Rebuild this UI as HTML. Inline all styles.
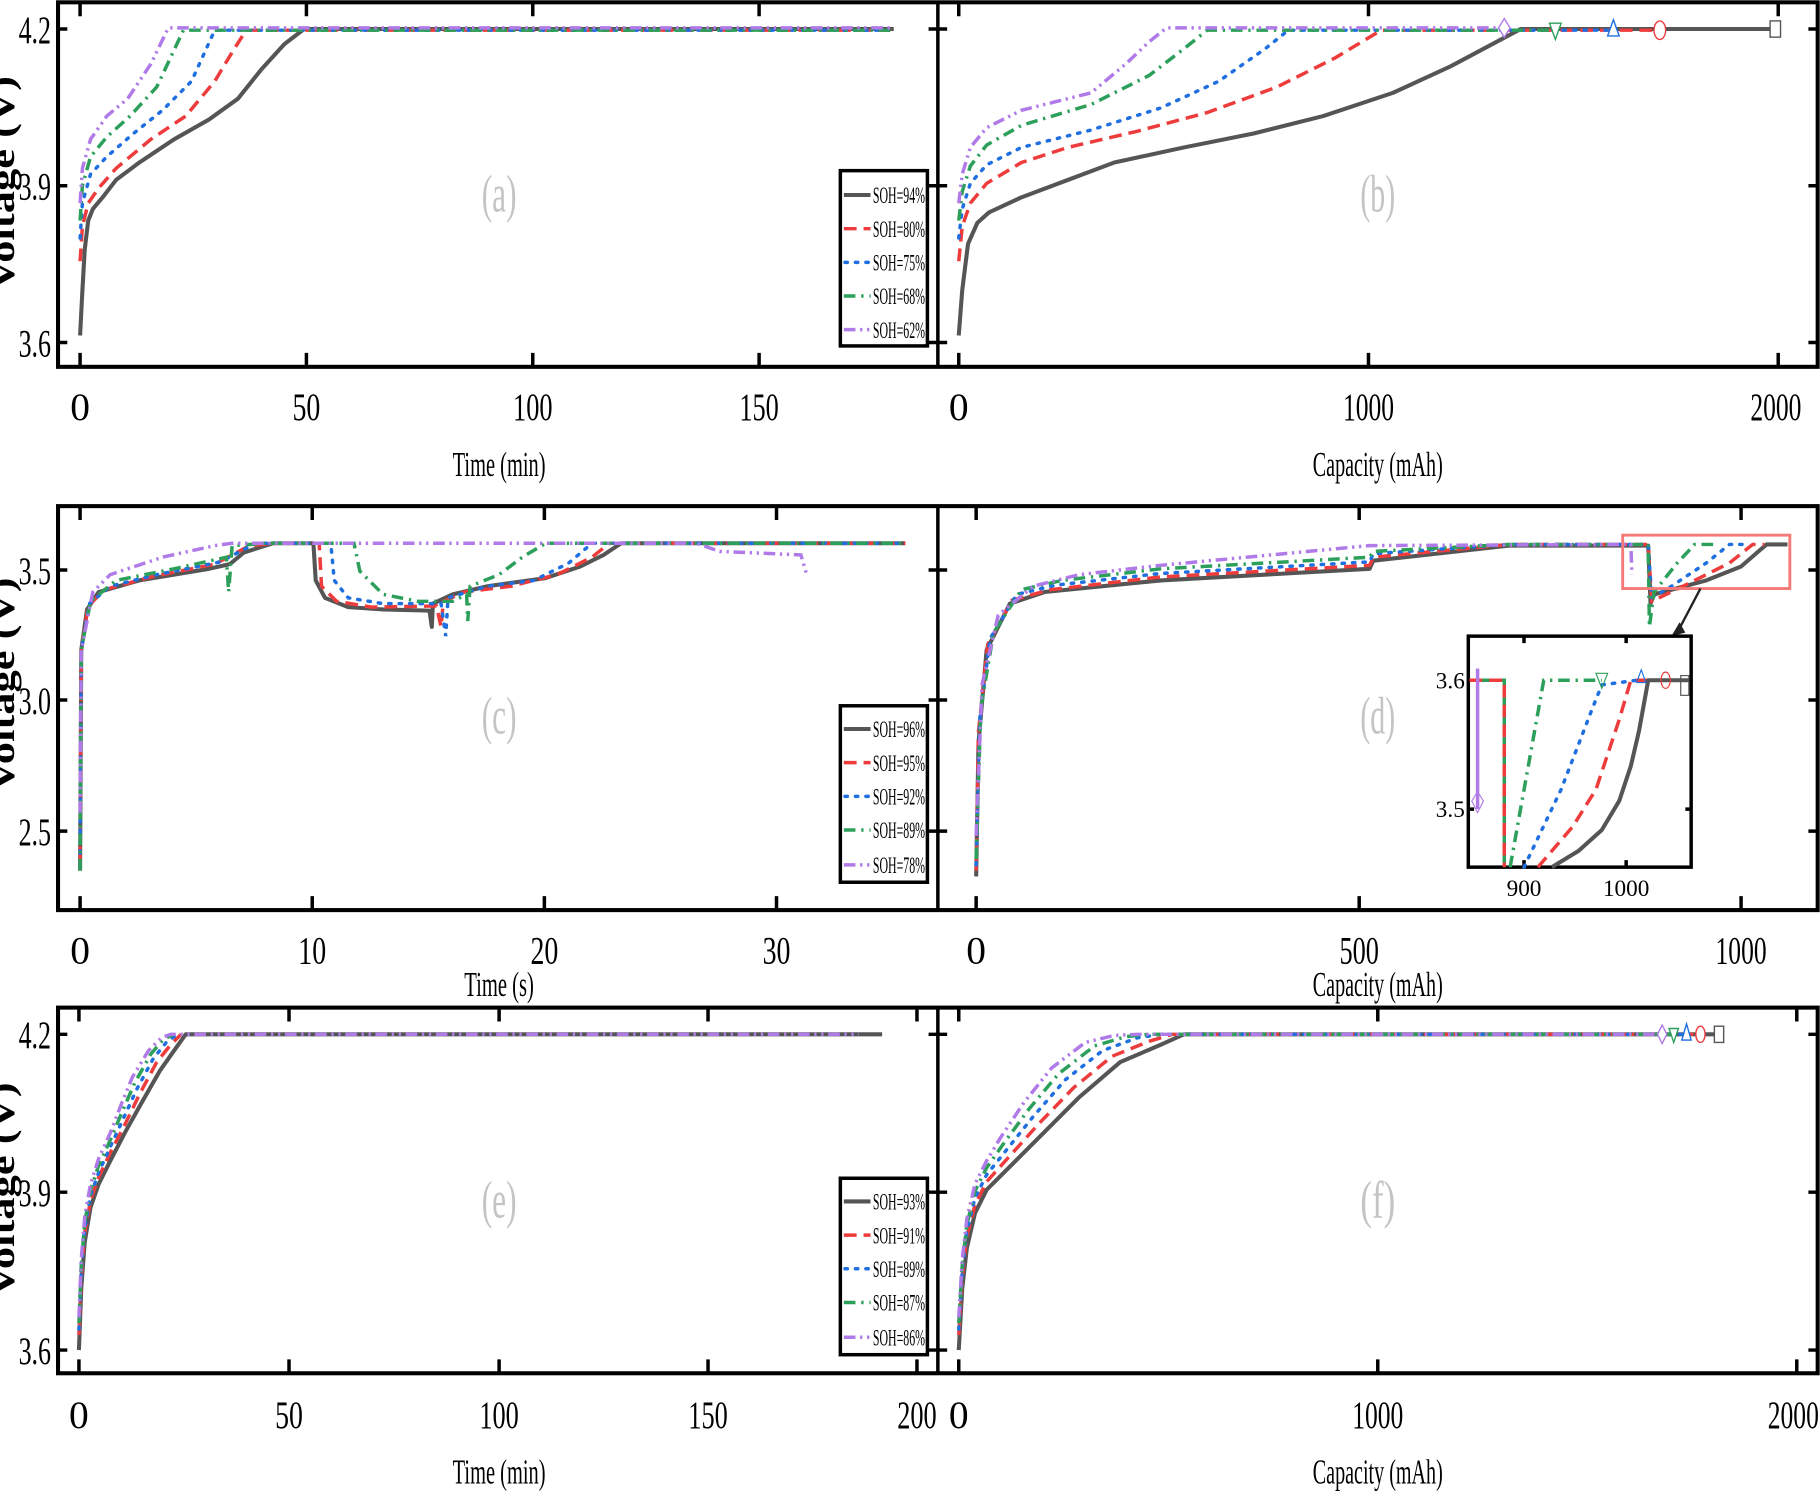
<!DOCTYPE html>
<html><head><meta charset="utf-8"><style>
html,body{margin:0;padding:0;background:#fff;}
svg{display:block;}
text{font-family:"Liberation Serif",serif;}
.tk{font-size:34px;fill:#000;}
.ax{font-size:30px;fill:#000;}
.lg{font-size:20px;fill:#000;}
.pl{font-size:46px;fill:#c4c4c4;}
.g{stroke:#555;stroke-width:3.5;fill:none;stroke-linejoin:round;}
.r{stroke:#ee3b3b;stroke-width:3;fill:none;stroke-dasharray:11 6;}
.b{stroke:#1f6fe0;stroke-width:3;fill:none;stroke-dasharray:2 7;stroke-linecap:round;}
.gr{stroke:#2ca05a;stroke-width:3;fill:none;stroke-dasharray:10 5 2 5;}
.p{stroke:#b07be8;stroke-width:3;fill:none;stroke-dasharray:10 4 2 4 2 4;}
.fr{fill:none;stroke:#000;stroke-width:3.5;}
.t{stroke:#000;stroke-width:3;}
</style></head><body>
<svg width="1820" height="1494" viewBox="0 0 1568 1287" preserveAspectRatio="none" xmlns="http://www.w3.org/2000/svg">
<rect class="fr" x="50" y="2" width="1516" height="314"/>
<line class="t" x1="808" y1="2" x2="808" y2="316"/>
<rect class="fr" x="50" y="436" width="1516" height="348"/>
<line class="t" x1="808" y1="436" x2="808" y2="784"/>
<rect class="fr" x="50" y="868" width="1516" height="315"/>
<line class="t" x1="808" y1="868" x2="808" y2="1183"/>

<g class="t">
<path d="M69 2v12M264 2v12M459 2v12M654 2v12M69 316v-12M264 316v-12M459 316v-12M654 316v-12"/>
<path d="M826 2v12M1179 2v12M1532 2v12M826 316v-12M1179 316v-12M1532 316v-12"/>
<path d="M50 25h8M50 160h8M50 295h8M808 25h-8M808 160h-8M808 295h-8M808 25h8M808 160h8M808 295h8M1566 25h-8M1566 160h-8M1566 295h-8"/>
<path d="M69 436v12M269 436v12M469 436v12M669 436v12M69 784v-12M269 784v-12M469 784v-12M669 784v-12"/>
<path d="M841 436v12M1171 436v12M1500 436v12M841 784v-12M1171 784v-12M1500 784v-12"/>
<path d="M50 491h8M50 603h8M50 716h8M808 491h-8M808 603h-8M808 716h-8M808 491h8M808 603h8M808 716h8M1566 491h-8M1566 603h-8M1566 716h-8"/>
<path d="M68 868v12M249 868v12M430 868v12M610 868v12M790 868v12M68 1183v-12M249 1183v-12M430 1183v-12M610 1183v-12M790 1183v-12"/>
<path d="M826 868v12M1187 868v12M1548 868v12M826 1183v-12M1187 1183v-12M1548 1183v-12"/>
<path d="M50 891h8M50 1027h8M50 1163h8M808 891h-8M808 1027h-8M808 1163h-8M808 891h8M808 1027h8M808 1163h8M1566 891h-8M1566 1027h-8M1566 1163h-8"/>
</g>

<g class="tk" text-anchor="end">
<text x="44" y="37" textLength="28" lengthAdjust="spacingAndGlyphs">4.2</text>
<text x="44" y="172" textLength="28" lengthAdjust="spacingAndGlyphs">3.9</text>
<text x="44" y="307" textLength="28" lengthAdjust="spacingAndGlyphs">3.6</text>
<text x="44" y="503" textLength="28" lengthAdjust="spacingAndGlyphs">3.5</text>
<text x="44" y="615" textLength="28" lengthAdjust="spacingAndGlyphs">3.0</text>
<text x="44" y="728" textLength="28" lengthAdjust="spacingAndGlyphs">2.5</text>
<text x="44" y="903" textLength="28" lengthAdjust="spacingAndGlyphs">4.2</text>
<text x="44" y="1039" textLength="28" lengthAdjust="spacingAndGlyphs">3.9</text>
<text x="44" y="1175" textLength="28" lengthAdjust="spacingAndGlyphs">3.6</text>
</g>
<g font-size="30" font-weight="bold" font-family="Liberation Serif,serif">
<text transform="translate(12,158) rotate(-90)" text-anchor="middle" textLength="185" lengthAdjust="spacingAndGlyphs">Voltage (V)</text>
<text transform="translate(12,590) rotate(-90)" text-anchor="middle" textLength="185" lengthAdjust="spacingAndGlyphs">Voltage (V)</text>
<text transform="translate(12,1025) rotate(-90)" text-anchor="middle" textLength="185" lengthAdjust="spacingAndGlyphs">Voltage (V)</text>
</g>

<g class="tk" text-anchor="middle">
<text x="69" y="362">0</text><text x="264" y="362" textLength="24" lengthAdjust="spacingAndGlyphs">50</text><text x="459" y="362" textLength="34" lengthAdjust="spacingAndGlyphs">100</text><text x="654" y="362" textLength="34" lengthAdjust="spacingAndGlyphs">150</text>
<text x="826" y="362">0</text><text x="1179" y="362" textLength="44" lengthAdjust="spacingAndGlyphs">1000</text><text x="1530" y="362" textLength="44" lengthAdjust="spacingAndGlyphs">2000</text>
<text x="69" y="830">0</text><text x="269" y="830" textLength="24" lengthAdjust="spacingAndGlyphs">10</text><text x="469" y="830" textLength="24" lengthAdjust="spacingAndGlyphs">20</text><text x="669" y="830" textLength="24" lengthAdjust="spacingAndGlyphs">30</text>
<text x="841" y="830">0</text><text x="1171" y="830" textLength="34" lengthAdjust="spacingAndGlyphs">500</text><text x="1500" y="830" textLength="44" lengthAdjust="spacingAndGlyphs">1000</text>
<text x="68" y="1230">0</text><text x="249" y="1230" textLength="24" lengthAdjust="spacingAndGlyphs">50</text><text x="430" y="1230" textLength="34" lengthAdjust="spacingAndGlyphs">100</text><text x="610" y="1230" textLength="34" lengthAdjust="spacingAndGlyphs">150</text><text x="790" y="1230" textLength="34" lengthAdjust="spacingAndGlyphs">200</text>
<text x="826" y="1230">0</text><text x="1187" y="1230" textLength="44" lengthAdjust="spacingAndGlyphs">1000</text><text x="1545" y="1230" textLength="44" lengthAdjust="spacingAndGlyphs">2000</text>
</g>
<g class="ax" text-anchor="middle">
<text x="430" y="410" textLength="80" lengthAdjust="spacingAndGlyphs">Time (min)</text>
<text x="1187" y="410" textLength="112" lengthAdjust="spacingAndGlyphs">Capacity (mAh)</text>
<text x="430" y="858" textLength="60" lengthAdjust="spacingAndGlyphs">Time (s)</text>
<text x="1187" y="858" textLength="112" lengthAdjust="spacingAndGlyphs">Capacity (mAh)</text>
<text x="430" y="1278" textLength="80" lengthAdjust="spacingAndGlyphs">Time (min)</text>
<text x="1187" y="1278" textLength="112" lengthAdjust="spacingAndGlyphs">Capacity (mAh)</text>
</g>
<g class="pl" text-anchor="middle">
<text x="430" y="182" textLength="30" lengthAdjust="spacingAndGlyphs">(a)</text>
<text x="1187" y="182" textLength="30" lengthAdjust="spacingAndGlyphs">(b)</text>
<text x="430" y="632" textLength="30" lengthAdjust="spacingAndGlyphs">(c)</text>
<text x="1187" y="632" textLength="30" lengthAdjust="spacingAndGlyphs">(d)</text>
<text x="430" y="1049" textLength="30" lengthAdjust="spacingAndGlyphs">(e)</text>
<text x="1187" y="1049" textLength="30" lengthAdjust="spacingAndGlyphs">(f)</text>
</g>

<!-- panel a -->
<path class="g" d="M69 289L71 250L73 215L76 190L80 180L90 168L100 155L120 140L150 120L180 103L205 85L225 60L245 38L262 25L770 25"/>
<path class="r" d="M69 225L71 195L76 175L85 162L100 145L130 120L160 100L185 70L200 45L212 26L770 26"/>
<path class="b" d="M69 205L71 175L78 150L92 135L115 115L140 95L165 70L185 26L770 26"/>
<path class="gr" d="M69 190L71 160L78 135L92 118L112 100L135 75L158 26L770 26"/>
<path class="p" d="M69 175L71 145L78 120L92 100L110 85L130 55L145 24L770 24"/>

<!-- panel b -->
<path class="g" d="M826 289L829 250L834 210L842 192L852 183L880 170L920 155L960 140L1020 127L1080 115L1140 100L1200 80L1250 57L1310 25L1530 25"/>
<path class="r" d="M826 225L829 195L836 175L850 158L880 140L920 127L980 113L1040 97L1100 75L1150 50L1190 26L1430 26"/>
<path class="b" d="M826 205L829 180L836 158L850 142L880 127L940 112L1000 93L1050 70L1090 42L1110 26L1390 26"/>
<path class="gr" d="M826 190L829 165L836 143L850 125L880 108L940 90L990 65L1020 42L1040 26L1340 26"/>
<path class="p" d="M826 175L829 150L836 127L850 110L880 95L940 80L970 55L990 36L1005 24L1296 24"/>
<g fill="#fff" stroke-width="1.2">
<rect x="1525" y="18" width="9" height="14" stroke="#555"/>
<ellipse cx="1430" cy="26" rx="5" ry="8" stroke="#ee3b3b"/>
<path d="M1390 17L1385 31L1395 31Z" stroke="#1f6fe0"/>
<path d="M1335 20L1345 20L1340 34Z" stroke="#2ca05a"/>
<path d="M1296 16L1301 24L1296 32L1291 24Z" stroke="#b07be8"/>
</g>

<!-- panel c -->
<path class="g" d="M69 750L70 560L75 525L85 510L120 500L180 490L198 486L210 476L235 468L270 468L272 500L280 515L300 523L330 525L370 526L372 540L373 520L390 512L420 505L470 498L500 488L520 478L535 468L780 468"/>
<path class="r" d="M69 740L70 560L76 522L90 508L130 497L185 486L215 470L240 468L275 468L277 505L290 518L320 523L376 522L380 540L382 518L400 510L440 505L480 495L510 480L525 468L780 468"/>
<path class="b" d="M69 735L70 560L77 520L95 505L135 495L190 484L220 468L285 468L288 500L300 515L330 520L380 520L384 548L386 515L420 505L460 500L490 485L510 468L780 468"/>
<path class="gr" d="M69 750L70 560L78 518L100 500L150 490L195 480L197 510L200 470L230 468L305 468L310 492L330 512L360 518L390 518L402 512L403 535L405 505L430 495L450 480L470 468L780 468"/>
<path class="p" d="M69 700L70 560L80 510L95 495L140 480L185 470L200 468L600 468L620 475L690 478L695 495"/>

<!-- panel d -->
<path class="g" d="M841 755L843 640L850 560L870 520L900 510L1000 500L1180 490L1183 483L1300 470L1420 470L1422 520L1425 512L1470 500L1500 488L1515 475L1522 469L1540 469"/>
<path class="r" d="M841 750L843 630L851 555L872 517L905 508L1000 497L1180 487L1183 480L1300 469L1420 469L1423 518L1450 505L1490 485L1510 469L1520 469"/>
<path class="b" d="M841 745L844 620L853 550L876 512L910 504L1000 494L1180 484L1183 477L1300 469L1420 469L1423 515L1440 505L1470 485L1490 469L1505 469"/>
<path class="gr" d="M841 740L845 610L856 545L880 508L915 500L1000 490L1180 480L1183 475L1300 469L1420 469L1421 540L1425 510L1445 485L1460 469L1480 469"/>
<path class="p" d="M841 720L846 590L860 530L890 505L930 495L1000 487L1180 470L1405 469L1406 495"/>
<rect x="1398" y="461" width="144" height="46" fill="none" stroke="#f47a7a" stroke-width="2.5"/>
<path d="M1465 507L1445 545" stroke="#222" stroke-width="2"/>
<path d="M1440 548L1447 536L1452 545Z" fill="#222"/>
<rect x="1265" y="548" width="192" height="199" fill="#fff" stroke="#000" stroke-width="3"/>
<g class="t" stroke-width="2"><path d="M1313 548v6M1401 548v6M1313 747v-6M1401 747v-6M1265 586h5M1265 697h5M1457 586h-5M1457 697h-5"/></g>
<g font-size="20" text-anchor="end"><text x="1262" y="593">3.6</text><text x="1262" y="704">3.5</text></g>
<g font-size="20" text-anchor="middle"><text x="1313" y="772">900</text><text x="1401" y="772">1000</text></g>
<path d="M1266 586L1296 586L1296 747" stroke="#2ca05a" stroke-width="3" fill="none"/>
<path d="M1266 586L1296 586L1296 747" class="r" stroke-width="2"/>
<path d="M1273 576L1273 697" stroke="#b07be8" stroke-width="3"/>
<path d="M1301 747L1330 586L1380 586" class="gr"/>
<path d="M1313 747L1345 680L1372 610L1380 590L1410 586" class="b"/>
<path d="M1325 747L1355 712L1375 680L1395 620L1405 586L1435 586" class="r"/>
<path d="M1337 747L1360 733L1380 715L1395 690L1405 660L1412 630L1420 586L1455 586" class="g"/>
<g fill="none" stroke-width="1">
<path d="M1273 682L1278 690L1273 700L1268 690Z" stroke="#b07be8"/>
<path d="M1375 580L1385 580L1380 593Z" stroke="#2ca05a"/>
<path d="M1414 577L1410 588L1418 588Z" stroke="#1f6fe0"/>
<ellipse cx="1435" cy="586" rx="4" ry="7" stroke="#ee3b3b"/>
<rect x="1448" y="582" width="7" height="17" stroke="#555"/>
</g>

<!-- panel e -->
<path class="g" d="M68 1163L70 1110L73 1070L78 1040L85 1020L95 1000L108 975L122 950L138 922L150 905L160 891L760 891"/>
<path class="r" d="M68 1150L70 1100L73 1062L78 1034L85 1014L95 993L108 968L120 943L135 915L147 900L156 891"/>
<path class="b" d="M68 1145L70 1095L73 1058L78 1030L85 1010L95 988L107 962L118 938L132 912L144 897L153 891"/>
<path class="gr" d="M68 1140L70 1090L73 1053L78 1025L85 1004L95 982L106 956L116 933L130 908L141 895L150 891"/>
<path class="p" d="M68 1135L70 1085L73 1048L78 1020L85 998L95 976L105 950L114 928L128 905L139 894L147 891L740 891"/>

<!-- panel f -->
<path class="g" d="M826 1163L829 1110L833 1075L840 1045L850 1025L870 1005L900 975L930 945L965 915L1000 900L1020 891L1480 891"/>
<path class="r" d="M826 1150L829 1100L833 1065L840 1038L850 1018L868 998L895 968L925 937L958 910L990 897L1010 891L1465 891"/>
<path class="b" d="M826 1145L829 1095L833 1060L840 1032L850 1012L866 992L890 962L918 930L950 905L980 894L1000 891L1453 891"/>
<path class="gr" d="M826 1140L829 1090L833 1055L840 1026L850 1006L864 986L886 956L912 925L943 901L970 893L990 891L1442 891"/>
<path class="p" d="M826 1135L829 1085L833 1050L840 1020L850 1000L862 980L882 950L906 920L935 898L960 892L980 891L1432 891"/>
<g fill="#fff" stroke-width="1.2">
<rect x="1477" y="884" width="8" height="14" stroke="#555"/>
<ellipse cx="1465" cy="891" rx="4" ry="7" stroke="#ee3b3b"/>
<path d="M1453 882L1449 896L1457 896Z" stroke="#1f6fe0"/>
<path d="M1438 886L1446 886L1442 898Z" stroke="#2ca05a"/>
<path d="M1432 883L1436 891L1432 899L1428 891Z" stroke="#b07be8"/>
</g>

<!-- legends -->
<rect x="724" y="147" width="75" height="151" fill="#fff" stroke="#000" stroke-width="3"/>
<rect x="724" y="608" width="75" height="152" fill="#fff" stroke="#000" stroke-width="3"/>
<rect x="724" y="1015" width="75" height="152" fill="#fff" stroke="#000" stroke-width="3"/>
<g>
<path class="g" d="M727 168H750"/><path class="r" d="M727 197H750"/><path class="b" d="M728 226H750"/><path class="gr" d="M727 255H750"/><path class="p" d="M727 284H750"/>
<path class="g" d="M727 628H750"/><path class="r" d="M727 657H750"/><path class="b" d="M728 686H750"/><path class="gr" d="M727 715H750"/><path class="p" d="M727 745H750"/>
<path class="g" d="M727 1035H750"/><path class="r" d="M727 1064H750"/><path class="b" d="M728 1093H750"/><path class="gr" d="M727 1122H750"/><path class="p" d="M727 1152H750"/>
</g>
<g class="lg">
<text x="752" y="175" textLength="45" lengthAdjust="spacingAndGlyphs">SOH=94%</text>
<text x="752" y="204" textLength="45" lengthAdjust="spacingAndGlyphs">SOH=80%</text>
<text x="752" y="233" textLength="45" lengthAdjust="spacingAndGlyphs">SOH=75%</text>
<text x="752" y="262" textLength="45" lengthAdjust="spacingAndGlyphs">SOH=68%</text>
<text x="752" y="291" textLength="45" lengthAdjust="spacingAndGlyphs">SOH=62%</text>
<text x="752" y="635" textLength="45" lengthAdjust="spacingAndGlyphs">SOH=96%</text>
<text x="752" y="664" textLength="45" lengthAdjust="spacingAndGlyphs">SOH=95%</text>
<text x="752" y="693" textLength="45" lengthAdjust="spacingAndGlyphs">SOH=92%</text>
<text x="752" y="722" textLength="45" lengthAdjust="spacingAndGlyphs">SOH=89%</text>
<text x="752" y="752" textLength="45" lengthAdjust="spacingAndGlyphs">SOH=78%</text>
<text x="752" y="1042" textLength="45" lengthAdjust="spacingAndGlyphs">SOH=93%</text>
<text x="752" y="1071" textLength="45" lengthAdjust="spacingAndGlyphs">SOH=91%</text>
<text x="752" y="1100" textLength="45" lengthAdjust="spacingAndGlyphs">SOH=89%</text>
<text x="752" y="1129" textLength="45" lengthAdjust="spacingAndGlyphs">SOH=87%</text>
<text x="752" y="1159" textLength="45" lengthAdjust="spacingAndGlyphs">SOH=86%</text>
</g>
</svg>
</body></html>
